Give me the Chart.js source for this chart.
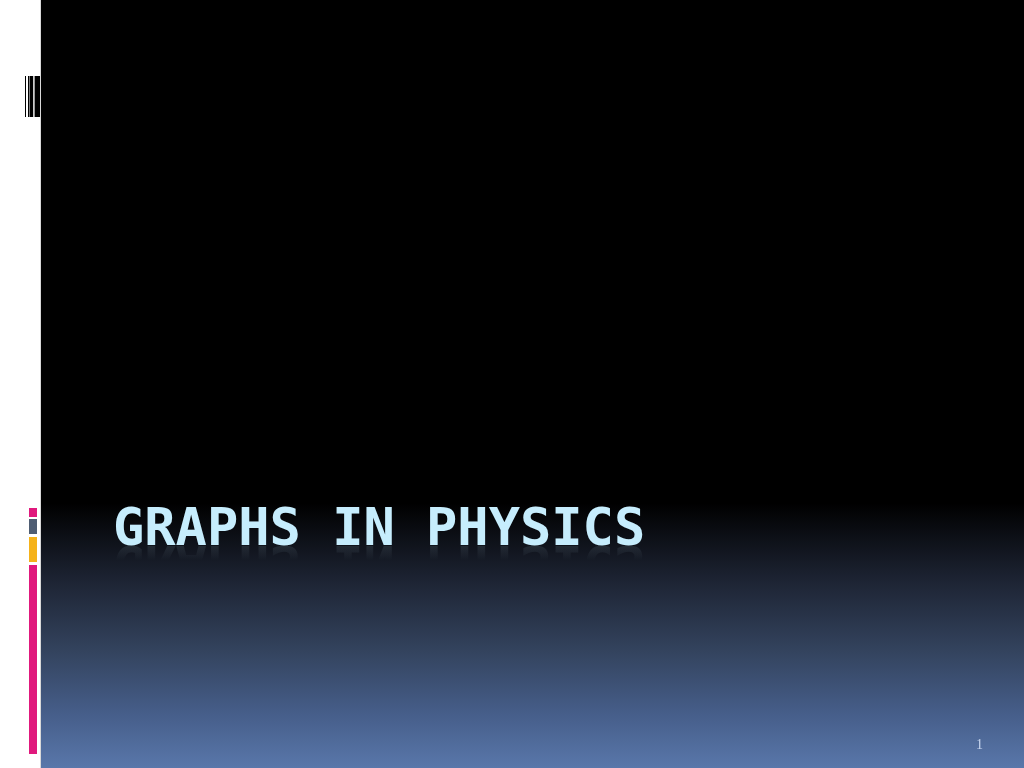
<!DOCTYPE html>
<html>
<head>
<meta charset="utf-8">
<title>Graphs in Physics</title>
<script src="https://cdn.jsdelivr.net/npm/chart.js@4/dist/chart.umd.min.js"></script>
<style>
  html, body { margin: 0; padding: 0; background: #fff; overflow: hidden; }
  #slide-wrap { width: 1024px; height: 768px; position: relative; }
</style>
</head>
<body>
<div id="slide-wrap"><canvas id="slide" width="1024" height="768"></canvas></div>
<script>
// Slide content: a title slide, no plotted series
const slideTitle = 'GRAPHS IN PHYSICS';
const slideNumber = '1';
const categories = [];
const seriesValues = [];

// Left accent blocks (top to bottom) and their colours
const accentColors = ['#e0197d', '#4f5d73', '#f5b21a', '#e0197d'];

const TITLE_FONT = 'bold 52px "DejaVu Sans Mono"';
const TITLE_SIZE = 52;
const TITLE_BASELINE = 545;

// Chart.js draws the title on the "middle" baseline; work out where the
// alphabetic baseline falls so the cap line lands where the slide has it
const probe = document.createElement('canvas').getContext('2d');
probe.font = TITLE_FONT;
probe.textBaseline = 'middle';
const capDrop = probe.measureText('H').actualBoundingBoxDescent;
const titlePadTop = Math.round(TITLE_BASELINE - capDrop - TITLE_SIZE * 1.2 / 2);

// Paints the white margin, the black-to-blue backdrop and the left decorations
const slideBackground = {
  id: 'slideBackground',
  beforeDraw(chart) {
    const { ctx, width, height } = chart;
    ctx.save();
    ctx.fillStyle = '#ffffff';
    ctx.fillRect(0, 0, width, height);

    const g = ctx.createLinearGradient(0, 0, 0, height);
    g.addColorStop(0, '#000000');
    g.addColorStop(0.655, '#000000');
    g.addColorStop(0.70, '#0d1017');
    g.addColorStop(0.76, '#1e2535');
    g.addColorStop(0.85, '#34445f');
    g.addColorStop(0.93, '#465e8a');
    g.addColorStop(1, '#5977aa');
    ctx.fillStyle = g;
    ctx.fillRect(41, 0, width - 41, height);
    ctx.fillStyle = '#d8d8d8';
    ctx.fillRect(40, 0, 1, height);

    // barcode-like mark near the top
    ctx.fillStyle = '#000000';
    [[25, 1], [28, 1.5], [30, 3], [35, 5]].forEach(([x, w]) => ctx.fillRect(x, 76, w, 41));
    ctx.fillStyle = '#9a9a9a';
    ctx.fillRect(33.5, 76, 1.5, 41);

    // coloured accent blocks beside the title
    const blocks = [[508, 9], [519, 15], [537, 25], [565, 189]];
    blocks.forEach(([y, h], i) => {
      ctx.fillStyle = accentColors[i];
      ctx.fillRect(29, y, 8, h);
    });
    ctx.restore();
  },
  afterDraw(chart) {
    // faint mirrored reflection under the title
    const { ctx } = chart;
    const x = chart.options.layout.padding.left;
    const base = TITLE_BASELINE + 1;
    ctx.save();
    ctx.beginPath();
    ctx.rect(41, base, chart.width, 14);
    ctx.clip();
    ctx.translate(0, base * 2);
    ctx.scale(1, -1);
    ctx.font = TITLE_FONT;
    ctx.textBaseline = 'alphabetic';
    const fade = ctx.createLinearGradient(0, base, 0, base - 14);
    fade.addColorStop(0, 'rgba(197, 236, 252, 0.10)');
    fade.addColorStop(1, 'rgba(197, 236, 252, 0)');
    ctx.fillStyle = fade;
    ctx.fillText(slideTitle, x, base);
    ctx.restore();
  }
};

const chart = new Chart(document.getElementById('slide'), {
  type: 'bar',
  data: {
    labels: categories,
    datasets: [{ data: seriesValues }],
  },
  options: {
    responsive: false,
    animation: false,
    devicePixelRatio: 1,
    layout: { padding: { left: 113, right: 41, top: 0, bottom: 0 } },
    plugins: {
      legend: { display: false },
      tooltip: { enabled: false },
      title: {
        display: true,
        text: slideTitle,
        align: 'start',
        color: '#c6edfd',
        font: { family: '"DejaVu Sans Mono"', size: TITLE_SIZE, weight: 'bold', lineHeight: 1.2 },
        padding: { top: titlePadTop, bottom: 0 },
      },
      subtitle: {
        display: true,
        text: slideNumber,
        position: 'bottom',
        align: 'end',
        color: '#c9d7ef',
        font: { family: '"Liberation Serif"', size: 14, lineHeight: 1.2 },
        padding: { top: 0, bottom: 14 },
      },
    },
    scales: {
      x: { display: false },
      y: { display: false },
    },
  },
  plugins: [slideBackground],
});
</script>
</body>
</html>
